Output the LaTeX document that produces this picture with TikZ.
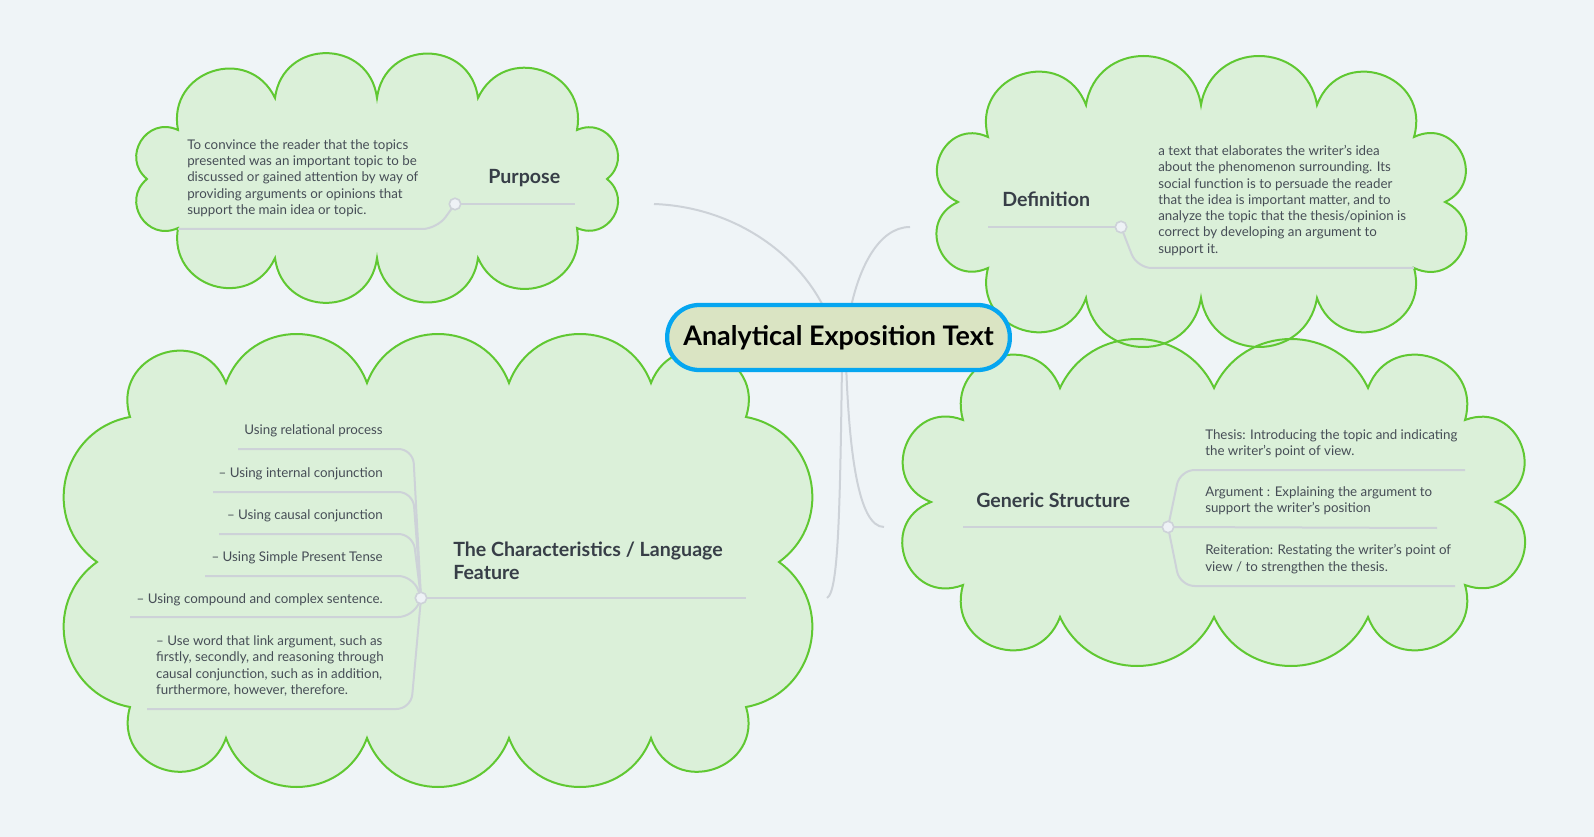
\documentclass[tikz,border=0pt]{standalone}
\usepackage{fontspec}
\setmainfont{Lato}
\usetikzlibrary{calc}
\definecolor{bgc}{HTML}{EFF4F7}
\definecolor{cloudfill}{HTML}{DBF0D9}
\definecolor{cloudline}{HTML}{60C832}
\definecolor{conn}{HTML}{CDD2D8}
\definecolor{titlec}{HTML}{373E47}
\definecolor{bodyc}{HTML}{464D56}
\definecolor{rootfill}{HTML}{DAE4C3}
\definecolor{rootline}{HTML}{06A6F0}
\definecolor{dotfill}{HTML}{EEF2F6}
% #1 name, #2 number of cusps, #3 bump ratio, #4 cusp list x/y (clockwise on screen)
\newcommand\mkcloud[4]{%
  \foreach \px/\py [count=\k] in {#4} {\coordinate (#1-\k) at (\px,\py);}
  \foreach \k [remember=\k as \j (initially #2)] in {1,...,#2} {
    \path (#1-\j); \pgfgetlastxy{\cxa}{\cya}
    \path (#1-\k); \pgfgetlastxy{\cxb}{\cyb}
    \pgfmathsetmacro\cldc{veclen(\cxb-\cxa,\cyb-\cya)}
    \pgfmathsetmacro\cldt{2*min(36.75,#3*\cldc)/\cldc}
    \pgfmathsetmacro\cldf{(1+\cldt*\cldt)/3}
    \pgfmathsetmacro\clda{2*atan(\cldt)}
    \coordinate (#1-a\k) at ($(#1-\j)!\cldf!\clda:(#1-\k)$);
    \coordinate (#1-b\k) at ($(#1-\k)!\cldf!-\clda:(#1-\j)$);
  }
}
\newcommand\cloudpathfill[2]{%
  \fill[cloudfill] (#1-#2) foreach \k in {1,...,#2} { .. controls (#1-a\k) and (#1-b\k) .. (#1-\k) } -- cycle;}
\newcommand\cloudpathdraw[2]{%
  \draw[cloudline, line width=1.5pt] (#1-#2) foreach \k in {1,...,#2} { .. controls (#1-a\k) and (#1-b\k) .. (#1-\k) } -- cycle;}
\begin{document}
\begin{tikzpicture}[x=0.75pt,y=-0.75pt,
  link/.style={draw=conn, line width=1.5pt},
  elbow/.style={draw=conn, line width=1.5pt, rounded corners=11pt},
  dot/.style={circle, fill=dotfill, draw=conn, line width=1.1pt, minimum size=8.5pt, inner sep=0pt},
  ttl/.style={font=\fontsize{14.7}{17.25}\selectfont\bfseries, text=titlec, inner sep=0pt, align=left},
  body/.style={font=\fontsize{10}{12.2}\selectfont, text=bodyc, inner sep=0pt, align=left},
  bodyr/.style={font=\fontsize{10}{12.2}\selectfont, text=bodyc, inner sep=0pt, align=right},
  rootbox/.style={draw=rootline, fill=rootfill, line width=3.2pt, rounded corners=24pt,
     minimum width=257pt, minimum height=48.75pt, inner sep=0pt,
     font=\fontsize{20.2}{24}\selectfont\bfseries, text=black}]
\fill[bgc] (0,0) rectangle (1594,837);
\useasboundingbox (0,0) rectangle (1594,837);

% clouds geometry
\mkcloud{pu}{12}{0.44}{178/130,275/98,377/98,478/98,577/130,607/179,577/228,478/258,377/258,275/258,178/228,147/179}
\mkcloud{de}{12}{0.5}{988/137,1086/105,1201/105,1317/105,1414/137,1445/202,1414/268,1317/298,1201/298,1086/298,988/268,958/202}
\mkcloud{ch}{14}{0.5}{130/417,226/383,367/383,509/383,651/383,746/417,779/562,746/707,651/738,509/738,367/738,226/738,130/707,97/562}
\mkcloud{ge}{12}{0.5}{963/420,1060/388,1214/388,1368/388,1465/420,1496/502,1465/585,1368/617,1214/617,1060/617,963/585,931/502}

\cloudpathfill{pu}{12}
\cloudpathfill{de}{12}
\cloudpathfill{ch}{14}
\cloudpathfill{ge}{12}
\cloudpathdraw{pu}{12}
\cloudpathdraw{de}{12}
\cloudpathdraw{ch}{14}
\cloudpathdraw{ge}{12}

% root anchor points for connectors
\coordinate (r-pu) at (826,312);
\coordinate (r-de) at (850,312);
\coordinate (r-ch) at (842,362);
\coordinate (r-ge) at (846,362);
\coordinate (e-pu) at (654,204);
\coordinate (e-de) at (910,227);
\coordinate (e-ch) at (827,598);
\coordinate (e-ge) at (884,527);

\draw[link] (r-pu) .. controls (800,255) and (735,207) .. (e-pu);
\draw[link] (r-de) .. controls (858,270) and (878,227) .. (e-de);
\draw[link] (r-ch) .. controls (840,520) and (838,592) .. (e-ch);
\draw[link] (r-ge) .. controls (849,450) and (858,527) .. (e-ge);

% ---------- Purpose ----------
\node[ttl, anchor=base west] (pu-t) at (488,184) {Purpose};
\node[body, anchor=west] (pu-b) at (187,178) {To convince the reader that the topics\\presented was an important topic to be\\discussed or gained attention by way of\\providing arguments or opinions that\\support the main idea or topic.};
\coordinate (pu-ul) at (575,204);
\coordinate (pu-cl) at (178,229);
\node[dot] (pu-d) at (455,204) {};
\draw[link] (pu-d) -- (pu-ul);
\draw[elbow] (pu-d.center) -- (437,229) -- (pu-cl);
\node[dot] at (pu-d) {};

% ---------- Definition ----------
\node[ttl, anchor=base west] (de-t) at (1002,207) {Definition};
\node[body, anchor=west] (de-b) at (1158,200.5) {a text that elaborates the writer’s idea\\about the phenomenon surrounding. Its\\social function is to persuade the reader\\that the idea is important matter, and to\\analyze the topic that the thesis/opinion is\\correct by developing an argument to\\support it.};
\coordinate (de-ul) at (988,227);
\coordinate (de-cl) at (1414,268);
\node[dot] (de-d) at (1121,227) {};
\draw[link] (de-ul) -- (de-d);
\draw[elbow] (de-d.center) -- (1137,268) -- (de-cl);
\node[dot] at (de-d) {};

% ---------- Characteristics ----------
\node[ttl, anchor=west] (ch-t) at (453,561) {The Characteristics / Language\\Feature};
\coordinate (ch-ul) at (746,598);
\node[dot] (ch-d) at (421,598) {};
\draw[link] (ch-d) -- (ch-ul);
\node[bodyr, anchor=base east] (ch-1) at (383,435) {Using relational process};
\node[bodyr, anchor=base east] (ch-2) at (383,477) {– Using internal conjunction};
\node[bodyr, anchor=base east] (ch-3) at (383,519) {– Using causal conjunction};
\node[bodyr, anchor=base east] (ch-4) at (383,561) {– Using Simple Present Tense};
\node[bodyr, anchor=base east] (ch-5) at (383,603) {– Using compound and complex sentence.};
\node[body, anchor=east] (ch-6) at (384,666) {– Use word that link argument, such as\\firstly, secondly, and reasoning through\\causal conjunction, such as in addition,\\furthermore, however, therefore.};
\coordinate (ch-l1) at (238,449);
\coordinate (ch-l2) at (213,492);
\coordinate (ch-l3) at (219,534);
\coordinate (ch-l4) at (205,576);
\coordinate (ch-l5) at (130,617);
\coordinate (ch-l6) at (147,709);
\draw[elbow] (ch-d.center) -- (413,449) -- (ch-l1);
\draw[elbow] (ch-d.center) -- (413,492) -- (ch-l2);
\draw[elbow] (ch-d.center) -- (413,534) -- (ch-l3);
\draw[elbow] (ch-d.center) -- (413,576) -- (ch-l4);
\draw[elbow] (ch-d.center) -- (413,617) -- (ch-l5);
\draw[elbow] (ch-d.center) -- (411,709) -- (ch-l6);
\node[dot] at (ch-d) {};

% ---------- Generic Structure ----------
\node[ttl, anchor=base west] (ge-t) at (976,507) {Generic Structure};
\coordinate (ge-ul) at (963,527);
\node[dot] (ge-d) at (1168,527) {};
\draw[link] (ge-ul) -- (ge-d);
\node[body, anchor=west] (ge-1) at (1205,444) {Thesis: Introducing the topic and indicating\\the writer’s point of view.};
\node[body, anchor=west] (ge-2) at (1205,501) {Argument : Explaining the argument to\\support the writer’s position};
\node[body, anchor=west] (ge-3) at (1205,559) {Reiteration: Restating the writer’s point of\\view / to strengthen the thesis.};
\coordinate (ge-l1) at (1465,470);
\coordinate (ge-l2) at (1437,528);
\coordinate (ge-l3) at (1455,586);
\draw[elbow] (ge-d.center) -- (1180,470) -- (ge-l1);
\draw[link] (ge-d.center) -- (ge-l2);
\draw[elbow] (ge-d.center) -- (1180,586) -- (ge-l3);
\node[dot] at (ge-d) {};

% ---------- Root ----------
\node[rootbox] (root) at (838.5,337.5) {Analytical Exposition Text};
\end{tikzpicture}
\end{document}
